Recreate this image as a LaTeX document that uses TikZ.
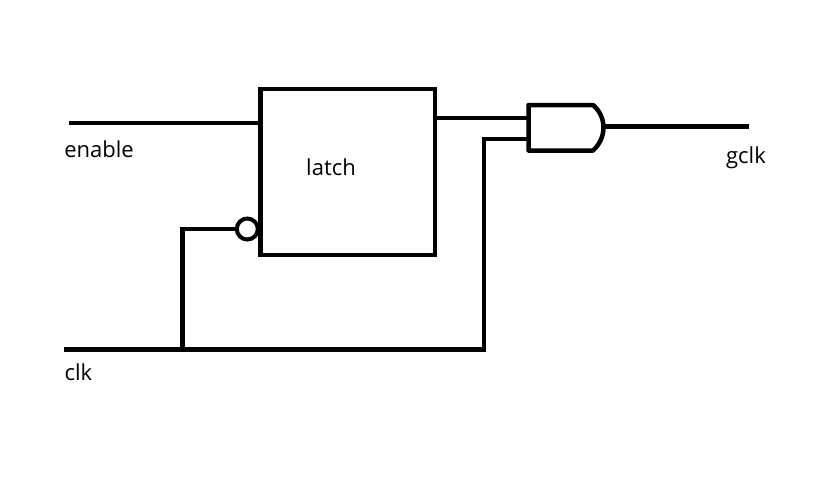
\documentclass[tikz,border=0pt]{standalone}
\usepackage{fontspec}
\setmainfont{Open Sans}
\begin{document}
\begin{tikzpicture}[x=1pt,y=-1pt,
  wire/.style={line width=4.5pt,draw=black,line cap=butt,line join=miter},
  lbl/.style={inner sep=0pt,font=\fontsize{22}{24}\selectfont,text=black}]
\useasboundingbox (0,0) rectangle (814,493);
\fill[white] (0,0) rectangle (814,493);
\node[draw=black,line width=4.5pt,outer sep=0pt,minimum width=174.5pt,minimum height=166pt,inner sep=0pt,anchor=north west] (latch) at (260.5,89) {};
\node[lbl] (latchtxt) at (331,167.5) {latch};
\node[draw=black,line width=4pt,outer sep=0pt,circle,minimum size=21pt,inner sep=0pt,fill=white] (bub) at (247.3,229) {};
\coordinate (enS) at (69,123);
\coordinate (enE) at (260,123);
\draw[wire] (enS) -- (enE);
\node[lbl] (entxt) at (99,149.5) {enable};
\coordinate (clkS) at (64,349.5);
\coordinate (j1) at (182.3,349.5);
\coordinate (j2) at (484,349.5);
\coordinate (a2) at (528,139);
\coordinate (a1) at (528,118);
\coordinate (lo) at (435,118);
\draw[wire] (clkS) -- (j2) -- (484,139) -- (a2);
\draw[wire] (j1) |- (bub.west);
\draw[wire] (lo) -- (a1);
\node[lbl] (clktxt) at (78.5,372.5) {clk};
\draw[wire,line join=round] (528.5,105) -- (593,105) .. controls (599,110) and (603.5,118) .. (603.5,127.5) .. controls (603.5,137) and (599,145) .. (593,150.5) -- (528.5,150.5) -- cycle;
\coordinate (aout) at (603.5,126.5);
\coordinate (gE) at (749,126.5);
\draw[wire] (aout) -- (gE);
\node[lbl] (gtxt) at (746,158) {gclk};
\end{tikzpicture}
\end{document}
